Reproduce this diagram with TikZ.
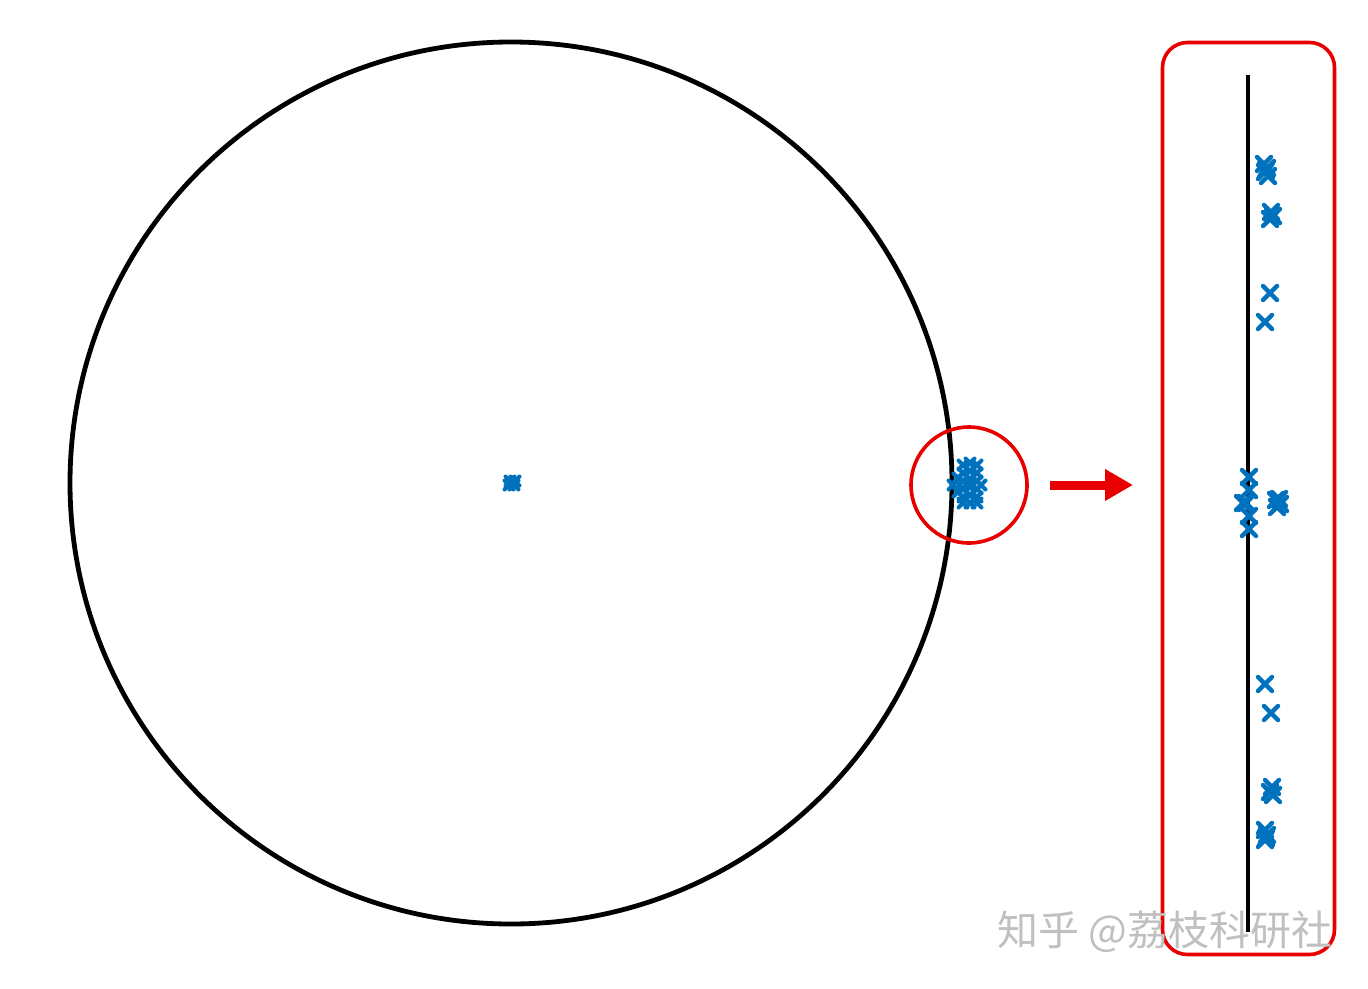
\documentclass[tikz,border=0pt]{standalone}
\usepackage{fontspec}
\newfontfamily\cjk{Noto Sans CJK SC}
\usetikzlibrary{calc,arrows.meta}
\definecolor{mblue}{RGB}{0,114,189}
\definecolor{zred}{RGB}{232,0,0}
\definecolor{wm}{RGB}{192,192,192}
\tikzset{
  xm/.style={draw=mblue,line width=4.4pt,line cap=round},
  xsm/.style={draw=mblue,line width=4pt,line cap=round},
}
\newcommand{\xmk}[2]{\draw[xm] ($(#1,#2)+(-7,-7)$) -- ($(#1,#2)+(7,7)$) ($(#1,#2)+(-7,7)$) -- ($(#1,#2)+(7,-7)$);}
\newcommand{\xsk}[2]{\draw[xsm] ($(#1,#2)+(-4.5,-4.5)$) -- ($(#1,#2)+(4.5,4.5)$) ($(#1,#2)+(-4.5,4.5)$) -- ($(#1,#2)+(4.5,-4.5)$);}
\begin{document}
\begin{tikzpicture}[x=1pt,y=-1pt]
\useasboundingbox (0,0) rectangle (1368,988);
\fill[white] (0,0) rectangle (1368,988);
% big circle
\node[circle,draw=black,line width=4.8pt,minimum size=882pt,inner sep=0pt] (big) at (511,483) {};
% center marker cluster
\xsk{510}{481}\xsk{514}{485}\xsk{512}{483}\xsk{509}{485}\xsk{515}{481}
% cluster on circle edge
\foreach \a/\b in {953/485,958/478,958/492,963/465,963/473,963/481,963/489,963/497,963/503,
                   970/463,970/471,970/479,970/487,970/495,970/503,
                   977/465,977/473,977/481,977/489,977/497,977/503,981/485,967/484}{\xsk{\a}{\b}}
% zoom circle
\node[circle,draw=zred,line width=3.6pt,minimum size=116pt,inner sep=0pt] (zc) at (969,485) {};
% arrow
\coordinate (as) at (1050,485);
\coordinate (ae) at (1133,485);
\draw[zred,line width=9pt,-{Triangle[length=28pt,width=30pt]}] (as) -- (ae);
% zoom panel
\node[draw=zred,line width=3.6pt,rounded corners=25pt,minimum width=172pt,minimum height=912pt,inner sep=0pt] (panel) at (1248.5,498.5) {};
\coordinate (lt) at (1248,75);
\coordinate (lb) at (1248,932);
\draw[black,line width=3.6pt] (lt) -- (lb);
% markers in panel
\foreach \a/\b in {1264/164,1267/168,1265/172,1268/176,1266/170,
                   1271/212,1273/216,1270/219,
                   1270/293,1265/322,
                   1249/477,1249/490,1246/503,1249/516,1249/529,1243/503,
                   1276/500,1280/504,1277/507,1279/499,
                   1265/684,1271/713,
                   1272/787,1270/792,1273/795,
                   1265/830,1267/835,1265/840,1266/838}{\xmk{\a}{\b}}
% watermark
\node[font=\cjk\fontsize{41pt}{41pt}\selectfont,text=wm,anchor=center] (wmt) at (1165,932) {知乎 @荔枝科研社};
\end{tikzpicture}
\end{document}
